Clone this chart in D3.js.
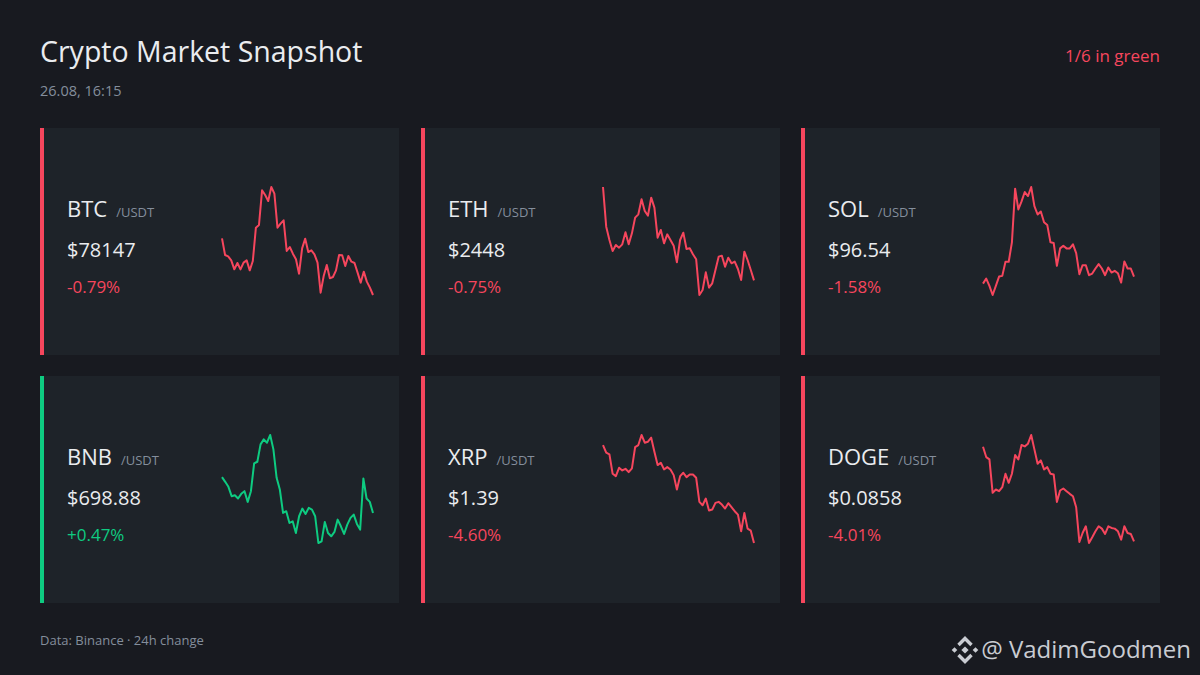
<html>
<head>
<meta charset="utf-8">
<script src="https://cdn.jsdelivr.net/npm/d3@7"></script>
<style>
  body { margin: 0; background: #181a20; }
  text { font-family: "Open Sans", "Noto Sans", sans-serif; }
</style>
</head>
<body>
<svg width="1200" height="675"></svg>
<script>
// card data
var symbols = ["BTC", "ETH", "SOL", "BNB", "XRP", "DOGE"];
var prices = ["$78147", "$2448", "$96.54", "$698.88", "$1.39", "$0.0858"];
var changes = [-0.79, -0.75, -1.58, 0.47, -4.60, -4.01];

// sparkline values (relative units)
var btcLine = [208,158,154,142,115,134,115,135,142,112,140,240,248,352,338,320,362,342,240,252,262,170,182,162,145,102,178,207,167,172,160,135,45,95,128,88,92,112,158,157,125,155,138,134,105,75,108,78,60,38];
var ethLine = [364,245,205,172,190,182,192,228,192,225,272,282,327,292,278,332,302,212,235,195,222,205,188,138,205,227,178,180,162,147,40,55,108,62,75,115,155,158,125,152,135,140,118,85,170,145,115,84];
var solLine = [77,92,70,43,70,98,100,142,142,200,360,298,322,350,338,365,308,283,292,260,252,200,198,130,182,190,182,182,194,168,105,132,132,102,107,122,135,122,102,125,110,115,108,80,143,122,122,98];
var bnbLine = [242,228,213,185,188,178,192,200,168,200,283,288,340,355,345,368,325,240,205,135,140,105,110,75,125,148,132,150,145,125,45,50,108,75,65,78,115,95,72,100,120,130,102,85,238,178,168,135];
var xrpLine = [338,315,310,252,245,270,262,267,257,268,332,338,368,345,348,360,318,278,285,265,272,265,248,205,245,255,242,250,250,240,168,158,178,142,145,165,168,160,148,164,152,140,130,80,135,88,82,45];
var dogeLine = [333,302,295,195,205,200,212,252,225,252,308,295,338,334,342,368,325,282,292,265,272,252,250,168,202,208,200,192,185,152,48,75,95,45,62,80,95,88,72,95,90,88,80,55,95,75,72,50];
var lines = [btcLine, ethLine, solLine, bnbLine, xrpLine, dogeLine];

var RED = "#f6465d", GREEN = "#0ecb81";
var svg = d3.select("svg");

svg.append("rect").attr("width", 1200).attr("height", 675).attr("fill", "#181a20");

// header
svg.append("text").attr("x", 40).attr("y", 62).attr("font-size", 28.5)
  .attr("fill", "#eaecef").text("Crypto Market Snapshot");
svg.append("text").attr("x", 40).attr("y", 96).attr("font-size", 14.5)
  .attr("fill", "#848e9c").text("26.08, 16:15");
var nGreen = changes.filter(function(c) { return c > 0; }).length;
svg.append("text").attr("x", 1160).attr("y", 62).attr("font-size", 17)
  .attr("text-anchor", "end").attr("fill", RED)
  .text(nGreen + "/" + symbols.length + " in green");

// grid of cards
var colX = d3.scalePoint().domain([0, 1, 2]).range([40, 801]);
var rowY = d3.scalePoint().domain([0, 1]).range([128, 376]);
var cardW = 359, cardH = 227;

var cards = svg.selectAll("g.card").data(symbols).enter().append("g")
  .attr("class", "card")
  .attr("transform", function(d, i) {
    return "translate(" + Math.round(colX(i % 3)) + "," + rowY(Math.floor(i / 3)) + ")";
  });

cards.append("rect").attr("width", cardW).attr("height", cardH).attr("fill", "#1e2329");
cards.append("rect").attr("width", 4).attr("height", cardH)
  .attr("fill", function(d, i) { return changes[i] >= 0 ? GREEN : RED; });

var sym = cards.append("text").attr("x", 27).attr("y", 89);
sym.append("tspan").attr("font-size", 22).attr("fill", "#eaecef").text(function(d) { return d; });
sym.append("tspan").attr("dx", 9).attr("font-size", 13).attr("fill", "#848e9c").text("/USDT");

cards.append("text").attr("x", 27).attr("y", 129).attr("font-size", 20)
  .attr("fill", "#eaecef").text(function(d, i) { return prices[i]; });
cards.append("text").attr("x", 27).attr("y", 165).attr("font-size", 17)
  .attr("fill", function(d, i) { return changes[i] >= 0 ? GREEN : RED; })
  .text(function(d, i) { return (changes[i] >= 0 ? "+" : "") + changes[i].toFixed(2) + "%"; });

// sparklines
cards.each(function(d, i) {
  var vals = lines[i];
  var x = d3.scaleLinear().domain([0, vals.length - 1]).range([182, 333]);
  var y = d3.scaleLinear().domain(d3.extent(vals)).range([167, 59]);
  d3.select(this).append("path")
    .datum(vals)
    .attr("fill", "none")
    .attr("stroke", changes[i] >= 0 ? GREEN : RED)
    .attr("stroke-width", 2)
    .attr("stroke-linejoin", "round")
    .attr("d", d3.line().x(function(v, k) { return x(k); }).y(function(v) { return y(v); }));
});

// footer
svg.append("text").attr("x", 40).attr("y", 645).attr("font-size", 13)
  .attr("fill", "#848e9c").text("Data: Binance \u00b7 24h change");
svg.append("text").attr("x", 1191).attr("y", 658).attr("font-size", 24)
  .attr("text-anchor", "end").attr("fill", "#c9ccd2").text("@ VadimGoodmen");

// binance-like logo
var logo = svg.append("g").attr("transform", "translate(965,650)").attr("fill", "#c9ccd2");
function diamond(cx, cy, r) {
  return "M" + cx + "," + (cy - r) + "L" + (cx + r) + "," + cy + "L" + cx + "," + (cy + r) + "L" + (cx - r) + "," + cy + "Z";
}
logo.append("path").attr("d", diamond(0, 0, 3.6));
logo.append("path").attr("d", diamond(-10.5, 0, 2.8));
logo.append("path").attr("d", diamond(10.5, 0, 2.8));
logo.append("path").attr("fill", "none").attr("stroke", "#c9ccd2").attr("stroke-width", 3.4)
  .attr("d", "M-6.5,-5L0,-11.5L6.5,-5");
logo.append("path").attr("fill", "none").attr("stroke", "#c9ccd2").attr("stroke-width", 3.4)
  .attr("d", "M-6.5,5L0,11.5L6.5,5");
</script>
</body>
</html>
